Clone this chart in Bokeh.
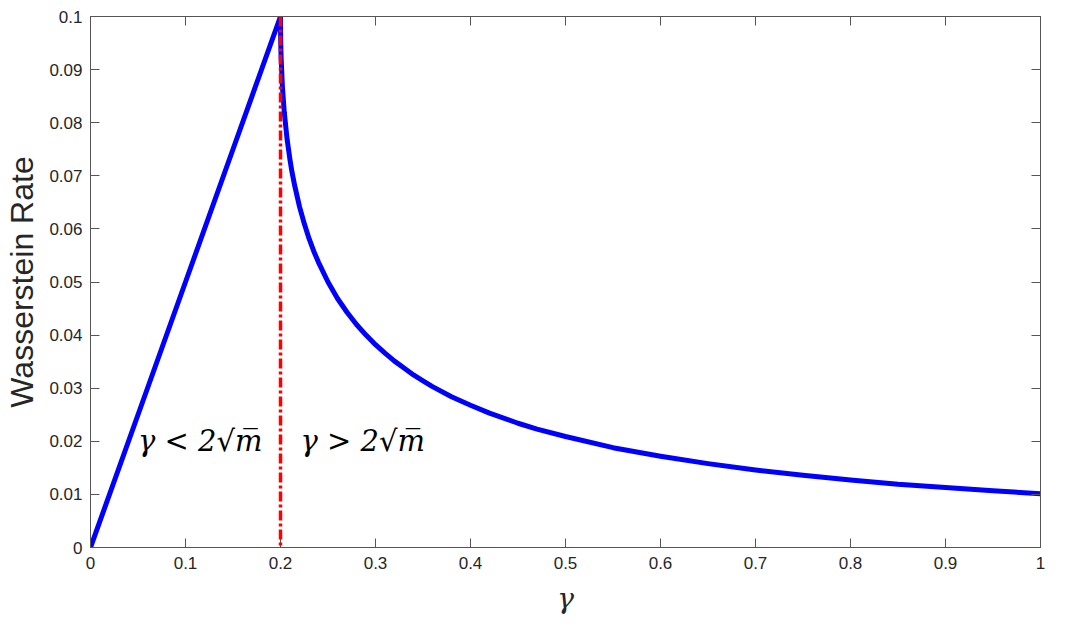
from bokeh.plotting import figure
from bokeh.models import LinearAxis, FixedTicker, Label, Span, CustomJSTickFormatter
from bokeh.embed import file_html
from bokeh.resources import INLINE

# values
gamma = [0.0, 0.05, 0.1, 0.15, 0.2, 0.2001, 0.2003, 0.2007, 0.202, 0.204, 0.207,
         0.21, 0.212, 0.215, 0.22, 0.225, 0.23, 0.235, 0.24, 0.25, 0.26, 0.27,
         0.28, 0.29, 0.3, 0.31, 0.32, 0.33, 0.34, 0.35, 0.36, 0.38, 0.4, 0.42,
         0.45, 0.47, 0.5, 0.55, 0.6, 0.65, 0.7, 0.75, 0.8, 0.85, 0.9, 0.95, 1.0]
rate = [0.0, 0.025, 0.05, 0.075, 0.1, 0.0969, 0.0947, 0.0920, 0.0868, 0.0819, 0.0768,
        0.0730, 0.0708, 0.0681, 0.0642, 0.0610, 0.0582, 0.0558, 0.0537, 0.0500, 0.0469, 0.0443,
        0.0420, 0.0400, 0.0382, 0.0366, 0.0351, 0.0338, 0.0325, 0.0314, 0.0303, 0.0284, 0.0268, 0.0253,
        0.0234, 0.0223, 0.0209, 0.0188, 0.0172, 0.0158, 0.0146, 0.0136, 0.0127, 0.0119, 0.0113, 0.0107, 0.0101]
threshold = 0.2

x_ticks = [0, 0.1, 0.2, 0.3, 0.4, 0.5, 0.6, 0.7, 0.8, 0.9, 1]
x_tick_labels = ["0", "0.1", "0.2", "0.3", "0.4", "0.5", "0.6", "0.7", "0.8", "0.9", "1"]
y_ticks = [0, 0.01, 0.02, 0.03, 0.04, 0.05, 0.06, 0.07, 0.08, 0.09, 0.1]
y_tick_labels = ["0", "0.01", "0.02", "0.03", "0.04", "0.05", "0.06", "0.07", "0.08", "0.09", "0.1"]

axis_color = "#555555"
text_color = "#262626"

p = figure(width=1056, height=623, x_range=(0, 1), y_range=(0, 0.1),
           output_backend="svg", toolbar_location=None,
           min_border_left=90, min_border_right=16, min_border_top=16, min_border_bottom=76,
           x_axis_label="γ", y_axis_label="Wasserstein Rate")
p.grid.visible = False
p.outline_line_color = axis_color
p.background_fill_color = "white"
p.border_fill_color = "white"

p.line(gamma, rate, line_color="#0000ff", line_width=5, line_join="round")
p.add_layout(Span(location=threshold, dimension="height", line_color="#ff0000",
                  line_width=3.5, line_dash="10 3 3 3"))

# extra axes on top and right to get ticks on all four sides
top = LinearAxis(ticker=FixedTicker(ticks=x_ticks), formatter=CustomJSTickFormatter(code="return ''"))
right = LinearAxis(ticker=FixedTicker(ticks=y_ticks), formatter=CustomJSTickFormatter(code="return ''"))
p.add_layout(top, "above")
p.add_layout(right, "right")

bottom = p.below[0]
left = p.left[0]
bottom.ticker = FixedTicker(ticks=x_ticks)
bottom.major_label_overrides = dict(zip(x_ticks, x_tick_labels))
left.ticker = FixedTicker(ticks=y_ticks)
left.major_label_overrides = dict(zip(y_ticks, y_tick_labels))

for ax in [bottom, left, top, right]:
    ax.axis_line_color = axis_color
    ax.major_tick_line_color = axis_color
    ax.major_tick_in = 9
    ax.major_tick_out = 0
    ax.minor_tick_line_color = None
    ax.major_label_text_font = "Liberation Sans"
    ax.major_label_text_font_size = "17px"
    ax.major_label_text_color = text_color
    ax.major_label_standoff = 8

top.major_label_standoff = 0
right.major_label_standoff = 0
bottom.major_label_standoff = 9

bottom.axis_label_text_font = "DejaVu Serif"
bottom.axis_label_text_font_style = "italic"
bottom.axis_label_text_font_size = "28px"
bottom.axis_label_text_color = text_color
bottom.axis_label_standoff = 10

left.axis_label_text_font = "Liberation Sans"
left.axis_label_text_font_style = "normal"
left.axis_label_text_font_size = "32px"
left.axis_label_text_color = text_color
left.axis_label_standoff = 6

for txt, xpos in [("γ < 2√m̅", 0.05), ("γ > 2√m̅", 0.221)]:
    p.add_layout(Label(x=xpos, y=0.0168, text=txt, text_font="DejaVu Serif",
                       text_font_style="italic", text_font_size="29px",
                       text_color="black"))

open("out.html", "w").write(file_html(p, INLINE))
